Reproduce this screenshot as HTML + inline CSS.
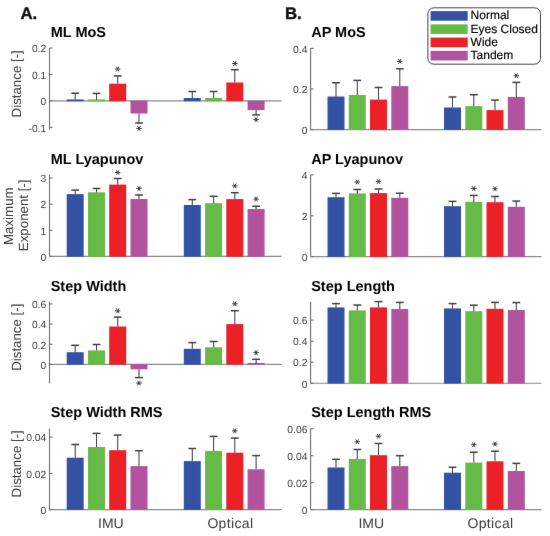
<!DOCTYPE html>
<html><head><meta charset="utf-8"><style>
html,body{margin:0;padding:0;background:#fff;}
body{width:550px;height:536px;overflow:hidden;}
svg{display:block;font-family:"Liberation Sans",sans-serif;text-rendering:geometricPrecision;}
.tk{font-size:10.3px;fill:#3a3a3a;text-anchor:end;}
.ti{font-size:14.5px;font-weight:bold;fill:#000;}
.pl{font-size:16.8px;font-weight:bold;fill:#111;stroke:#111;stroke-width:0.35px;}
.yl{font-size:13.3px;fill:#3a3a3a;text-anchor:middle;}
.xl{font-size:14px;fill:#3a3a3a;text-anchor:middle;}
.lg{font-size:12px;fill:#000;stroke:#000;stroke-width:0.15px;}
</style></head><body>
<svg width="550" height="536" viewBox="0 0 550 536">
<defs><filter id="bl" x="0" y="0" width="1" height="1" color-interpolation-filters="sRGB"><feConvolveMatrix order="3" kernelMatrix="0.00276 0.04704 0.00276 0.04704 0.80077 0.04704 0.00276 0.04704 0.00276" preserveAlpha="true" edgeMode="duplicate"/></filter></defs>
<g filter="url(#bl)">
<rect width="550" height="536" fill="#fff"/>
<path d="M49.5 100.9H281.5" stroke="#8a8a8a" stroke-width="1.1" fill="none"/>
<rect x="66.7" y="99.45" width="17" height="1.85" fill="#3452a3"/>
<path d="M75.2 99.8V93.2" stroke="#404040" stroke-width="1.05" fill="none"/>
<path d="M71.3 93.2H79.1" stroke="#404040" stroke-width="1.5" fill="none"/>
<rect x="88" y="99.45" width="17" height="1.85" fill="#66bb47"/>
<path d="M96.5 99.8V93.4" stroke="#404040" stroke-width="1.05" fill="none"/>
<path d="M92.6 93.4H100.4" stroke="#404040" stroke-width="1.5" fill="none"/>
<rect x="109.2" y="83.7" width="17" height="17.5" fill="#ec2027"/>
<path d="M117.7 83.7V75.9" stroke="#404040" stroke-width="1.05" fill="none"/>
<path d="M113.8 75.9H121.6" stroke="#404040" stroke-width="1.5" fill="none"/>
<path d="M115 69H120.4M116.35 66.66L119.05 71.34M119.05 66.66L116.35 71.34" stroke="#3a3a3a" stroke-width="1.0" fill="none"/>
<rect x="130.5" y="100.6" width="17" height="12.9" fill="#b1539f"/>
<path d="M139 113.5V123" stroke="#404040" stroke-width="1.05" fill="none"/>
<path d="M135.1 123H142.9" stroke="#404040" stroke-width="1.5" fill="none"/>
<path d="M136.3 128.4H141.7M137.65 126.06L140.35 130.74M140.35 126.06L137.65 130.74" stroke="#3a3a3a" stroke-width="1.0" fill="none"/>
<rect x="183.8" y="98" width="17" height="3.2" fill="#3452a3"/>
<path d="M192.3 98V91.5" stroke="#404040" stroke-width="1.05" fill="none"/>
<path d="M188.4 91.5H196.2" stroke="#404040" stroke-width="1.5" fill="none"/>
<rect x="205.1" y="98" width="17" height="3.2" fill="#66bb47"/>
<path d="M213.6 98V91.5" stroke="#404040" stroke-width="1.05" fill="none"/>
<path d="M209.7 91.5H217.5" stroke="#404040" stroke-width="1.5" fill="none"/>
<rect x="226.3" y="82.5" width="17" height="18.7" fill="#ec2027"/>
<path d="M234.8 82.5V69.7" stroke="#404040" stroke-width="1.05" fill="none"/>
<path d="M230.9 69.7H238.7" stroke="#404040" stroke-width="1.5" fill="none"/>
<path d="M232.1 63.5H237.5M233.45 61.16L236.15 65.84M236.15 61.16L233.45 65.84" stroke="#3a3a3a" stroke-width="1.0" fill="none"/>
<rect x="247.6" y="100.6" width="17" height="9.5" fill="#b1539f"/>
<path d="M256.1 110.1V114.9" stroke="#404040" stroke-width="1.05" fill="none"/>
<path d="M252.2 114.9H260" stroke="#404040" stroke-width="1.5" fill="none"/>
<path d="M253.4 119.6H258.8M254.75 117.26L257.45 121.94M257.45 117.26L254.75 121.94" stroke="#3a3a3a" stroke-width="1.0" fill="none"/>
<path d="M49.5 48V129.6" stroke="#6e6e6e" stroke-width="1.1" fill="none"/>
<path d="M49.5 48H52.5" stroke="#6e6e6e" stroke-width="1.1" fill="none"/>
<text x="46.3" y="52.2" class="tk">0.2</text>
<path d="M49.5 74.4H52.5" stroke="#6e6e6e" stroke-width="1.1" fill="none"/>
<text x="46.3" y="78.6" class="tk">0.1</text>
<path d="M49.5 100.8H52.5" stroke="#6e6e6e" stroke-width="1.1" fill="none"/>
<text x="46.3" y="105" class="tk">0</text>
<path d="M49.5 127.3H52.5" stroke="#6e6e6e" stroke-width="1.1" fill="none"/>
<text x="46.3" y="131.5" class="tk">-0.1</text>
<text x="50.7" y="37.2" class="ti">ML MoS</text>
<path d="M49.5 256.4H281.5" stroke="#8a8a8a" stroke-width="1.1" fill="none"/>
<rect x="66.7" y="194.1" width="17" height="62.6" fill="#3452a3"/>
<path d="M75.2 194.1V190.1" stroke="#404040" stroke-width="1.05" fill="none"/>
<path d="M71.3 190.1H79.1" stroke="#404040" stroke-width="1.5" fill="none"/>
<rect x="88" y="192.3" width="17" height="64.4" fill="#66bb47"/>
<path d="M96.5 192.3V188.5" stroke="#404040" stroke-width="1.05" fill="none"/>
<path d="M92.6 188.5H100.4" stroke="#404040" stroke-width="1.5" fill="none"/>
<rect x="109.2" y="184.6" width="17" height="72.1" fill="#ec2027"/>
<path d="M117.7 184.6V178.5" stroke="#404040" stroke-width="1.05" fill="none"/>
<path d="M113.8 178.5H121.6" stroke="#404040" stroke-width="1.5" fill="none"/>
<path d="M115 172.5H120.4M116.35 170.16L119.05 174.84M119.05 170.16L116.35 174.84" stroke="#3a3a3a" stroke-width="1.0" fill="none"/>
<rect x="130.5" y="199" width="17" height="57.7" fill="#b1539f"/>
<path d="M139 199V195" stroke="#404040" stroke-width="1.05" fill="none"/>
<path d="M135.1 195H142.9" stroke="#404040" stroke-width="1.5" fill="none"/>
<path d="M136.3 188.5H141.7M137.65 186.16L140.35 190.84M140.35 186.16L137.65 190.84" stroke="#3a3a3a" stroke-width="1.0" fill="none"/>
<rect x="183.8" y="205" width="17" height="51.7" fill="#3452a3"/>
<path d="M192.3 205V199.6" stroke="#404040" stroke-width="1.05" fill="none"/>
<path d="M188.4 199.6H196.2" stroke="#404040" stroke-width="1.5" fill="none"/>
<rect x="205.1" y="203.2" width="17" height="53.5" fill="#66bb47"/>
<path d="M213.6 203.2V196.3" stroke="#404040" stroke-width="1.05" fill="none"/>
<path d="M209.7 196.3H217.5" stroke="#404040" stroke-width="1.5" fill="none"/>
<rect x="226.3" y="199.1" width="17" height="57.6" fill="#ec2027"/>
<path d="M234.8 199.1V192.7" stroke="#404040" stroke-width="1.05" fill="none"/>
<path d="M230.9 192.7H238.7" stroke="#404040" stroke-width="1.5" fill="none"/>
<path d="M232.1 185.9H237.5M233.45 183.56L236.15 188.24M236.15 183.56L233.45 188.24" stroke="#3a3a3a" stroke-width="1.0" fill="none"/>
<rect x="247.6" y="209" width="17" height="47.7" fill="#b1539f"/>
<path d="M256.1 209V206.2" stroke="#404040" stroke-width="1.05" fill="none"/>
<path d="M252.2 206.2H260" stroke="#404040" stroke-width="1.5" fill="none"/>
<path d="M253.4 199.1H258.8M254.75 196.76L257.45 201.44M257.45 196.76L254.75 201.44" stroke="#3a3a3a" stroke-width="1.0" fill="none"/>
<path d="M49.5 174.7V256.4" stroke="#6e6e6e" stroke-width="1.1" fill="none"/>
<path d="M49.5 178.1H52.5" stroke="#6e6e6e" stroke-width="1.1" fill="none"/>
<text x="46.3" y="182.3" class="tk">3</text>
<path d="M49.5 204.2H52.5" stroke="#6e6e6e" stroke-width="1.1" fill="none"/>
<text x="46.3" y="208.4" class="tk">2</text>
<path d="M49.5 230.3H52.5" stroke="#6e6e6e" stroke-width="1.1" fill="none"/>
<text x="46.3" y="234.5" class="tk">1</text>
<path d="M49.5 256.4H52.5" stroke="#6e6e6e" stroke-width="1.1" fill="none"/>
<text x="46.3" y="260.6" class="tk">0</text>
<text x="50.7" y="163.9" class="ti">ML Lyapunov</text>
<path d="M49.5 364.4H281.5" stroke="#8a8a8a" stroke-width="1.1" fill="none"/>
<rect x="66.7" y="352.2" width="17" height="12.5" fill="#3452a3"/>
<path d="M75.2 352.2V345.3" stroke="#404040" stroke-width="1.05" fill="none"/>
<path d="M71.3 345.3H79.1" stroke="#404040" stroke-width="1.5" fill="none"/>
<rect x="88" y="350.4" width="17" height="14.3" fill="#66bb47"/>
<path d="M96.5 350.4V344.5" stroke="#404040" stroke-width="1.05" fill="none"/>
<path d="M92.6 344.5H100.4" stroke="#404040" stroke-width="1.5" fill="none"/>
<rect x="109.2" y="326.5" width="17" height="38.2" fill="#ec2027"/>
<path d="M117.7 326.5V317.1" stroke="#404040" stroke-width="1.05" fill="none"/>
<path d="M113.8 317.1H121.6" stroke="#404040" stroke-width="1.5" fill="none"/>
<path d="M115 310.9H120.4M116.35 308.56L119.05 313.24M119.05 308.56L116.35 313.24" stroke="#3a3a3a" stroke-width="1.0" fill="none"/>
<rect x="130.5" y="364.1" width="17" height="5.2" fill="#b1539f"/>
<path d="M139 369.3V377.6" stroke="#404040" stroke-width="1.05" fill="none"/>
<path d="M135.1 377.6H142.9" stroke="#404040" stroke-width="1.5" fill="none"/>
<path d="M136.3 383.1H141.7M137.65 380.76L140.35 385.44M140.35 380.76L137.65 385.44" stroke="#3a3a3a" stroke-width="1.0" fill="none"/>
<rect x="183.8" y="348.8" width="17" height="15.9" fill="#3452a3"/>
<path d="M192.3 348.8V342.6" stroke="#404040" stroke-width="1.05" fill="none"/>
<path d="M188.4 342.6H196.2" stroke="#404040" stroke-width="1.5" fill="none"/>
<rect x="205.1" y="347.3" width="17" height="17.4" fill="#66bb47"/>
<path d="M213.6 347.3V341.5" stroke="#404040" stroke-width="1.05" fill="none"/>
<path d="M209.7 341.5H217.5" stroke="#404040" stroke-width="1.5" fill="none"/>
<rect x="226.3" y="324.1" width="17" height="40.6" fill="#ec2027"/>
<path d="M234.8 324.1V310.7" stroke="#404040" stroke-width="1.05" fill="none"/>
<path d="M230.9 310.7H238.7" stroke="#404040" stroke-width="1.5" fill="none"/>
<path d="M232.1 303.8H237.5M233.45 301.46L236.15 306.14M236.15 301.46L233.45 306.14" stroke="#3a3a3a" stroke-width="1.0" fill="none"/>
<rect x="247.6" y="362.95" width="17" height="1.85" fill="#b1539f"/>
<path d="M256.1 364V359.3" stroke="#404040" stroke-width="1.05" fill="none"/>
<path d="M252.2 359.3H260" stroke="#404040" stroke-width="1.5" fill="none"/>
<path d="M253.4 352.6H258.8M254.75 350.26L257.45 354.94M257.45 350.26L254.75 354.94" stroke="#3a3a3a" stroke-width="1.0" fill="none"/>
<path d="M49.5 301.7V383.3" stroke="#6e6e6e" stroke-width="1.1" fill="none"/>
<path d="M49.5 303.9H52.5" stroke="#6e6e6e" stroke-width="1.1" fill="none"/>
<text x="46.3" y="308.1" class="tk">0.6</text>
<path d="M49.5 324.1H52.5" stroke="#6e6e6e" stroke-width="1.1" fill="none"/>
<text x="46.3" y="328.3" class="tk">0.4</text>
<path d="M49.5 344.3H52.5" stroke="#6e6e6e" stroke-width="1.1" fill="none"/>
<text x="46.3" y="348.5" class="tk">0.2</text>
<path d="M49.5 364.4H52.5" stroke="#6e6e6e" stroke-width="1.1" fill="none"/>
<text x="46.3" y="368.6" class="tk">0</text>
<text x="50.7" y="290.6" class="ti">Step Width</text>
<path d="M49.5 509.6H281.5" stroke="#8a8a8a" stroke-width="1.1" fill="none"/>
<rect x="66.7" y="457.7" width="17" height="52.2" fill="#3452a3"/>
<path d="M75.2 457.7V444.5" stroke="#404040" stroke-width="1.05" fill="none"/>
<path d="M71.3 444.5H79.1" stroke="#404040" stroke-width="1.5" fill="none"/>
<rect x="88" y="447" width="17" height="62.9" fill="#66bb47"/>
<path d="M96.5 447V433.4" stroke="#404040" stroke-width="1.05" fill="none"/>
<path d="M92.6 433.4H100.4" stroke="#404040" stroke-width="1.5" fill="none"/>
<rect x="109.2" y="450.2" width="17" height="59.7" fill="#ec2027"/>
<path d="M117.7 450.2V435.1" stroke="#404040" stroke-width="1.05" fill="none"/>
<path d="M113.8 435.1H121.6" stroke="#404040" stroke-width="1.5" fill="none"/>
<rect x="130.5" y="466.1" width="17" height="43.8" fill="#b1539f"/>
<path d="M139 466.1V450.7" stroke="#404040" stroke-width="1.05" fill="none"/>
<path d="M135.1 450.7H142.9" stroke="#404040" stroke-width="1.5" fill="none"/>
<rect x="183.8" y="461.1" width="17" height="48.8" fill="#3452a3"/>
<path d="M192.3 461.1V448.5" stroke="#404040" stroke-width="1.05" fill="none"/>
<path d="M188.4 448.5H196.2" stroke="#404040" stroke-width="1.5" fill="none"/>
<rect x="205.1" y="450.9" width="17" height="59" fill="#66bb47"/>
<path d="M213.6 450.9V436.4" stroke="#404040" stroke-width="1.05" fill="none"/>
<path d="M209.7 436.4H217.5" stroke="#404040" stroke-width="1.5" fill="none"/>
<rect x="226.3" y="452.7" width="17" height="57.2" fill="#ec2027"/>
<path d="M234.8 452.7V438.1" stroke="#404040" stroke-width="1.05" fill="none"/>
<path d="M230.9 438.1H238.7" stroke="#404040" stroke-width="1.5" fill="none"/>
<path d="M232.1 430.9H237.5M233.45 428.56L236.15 433.24M236.15 428.56L233.45 433.24" stroke="#3a3a3a" stroke-width="1.0" fill="none"/>
<rect x="247.6" y="469.3" width="17" height="40.6" fill="#b1539f"/>
<path d="M256.1 469.3V455.6" stroke="#404040" stroke-width="1.05" fill="none"/>
<path d="M252.2 455.6H260" stroke="#404040" stroke-width="1.5" fill="none"/>
<path d="M49.5 428.5V509.6" stroke="#6e6e6e" stroke-width="1.1" fill="none"/>
<path d="M49.5 437.1H52.5" stroke="#6e6e6e" stroke-width="1.1" fill="none"/>
<text x="46.3" y="441.3" class="tk">0.04</text>
<path d="M49.5 473.4H52.5" stroke="#6e6e6e" stroke-width="1.1" fill="none"/>
<text x="46.3" y="477.6" class="tk">0.02</text>
<path d="M49.5 509.6H52.5" stroke="#6e6e6e" stroke-width="1.1" fill="none"/>
<text x="46.3" y="513.8" class="tk">0</text>
<text x="50.7" y="417.3" class="ti">Step Width RMS</text>
<path d="M310.6 129.6H541.5" stroke="#8a8a8a" stroke-width="1.1" fill="none"/>
<rect x="327.5" y="96.5" width="17" height="33.4" fill="#3452a3"/>
<path d="M336 96.5V82.8" stroke="#404040" stroke-width="1.05" fill="none"/>
<path d="M332.1 82.8H339.9" stroke="#404040" stroke-width="1.5" fill="none"/>
<rect x="348.8" y="95" width="17" height="34.9" fill="#66bb47"/>
<path d="M357.3 95V80.4" stroke="#404040" stroke-width="1.05" fill="none"/>
<path d="M353.4 80.4H361.2" stroke="#404040" stroke-width="1.5" fill="none"/>
<rect x="370" y="99.6" width="17" height="30.3" fill="#ec2027"/>
<path d="M378.5 99.6V87.5" stroke="#404040" stroke-width="1.05" fill="none"/>
<path d="M374.6 87.5H382.4" stroke="#404040" stroke-width="1.5" fill="none"/>
<rect x="391.3" y="86.1" width="17" height="43.8" fill="#b1539f"/>
<path d="M399.8 86.1V68.8" stroke="#404040" stroke-width="1.05" fill="none"/>
<path d="M395.9 68.8H403.7" stroke="#404040" stroke-width="1.5" fill="none"/>
<path d="M397.1 61.3H402.5M398.45 58.96L401.15 63.64M401.15 58.96L398.45 63.64" stroke="#3a3a3a" stroke-width="1.0" fill="none"/>
<rect x="444" y="107.5" width="17" height="22.4" fill="#3452a3"/>
<path d="M452.5 107.5V97" stroke="#404040" stroke-width="1.05" fill="none"/>
<path d="M448.6 97H456.4" stroke="#404040" stroke-width="1.5" fill="none"/>
<rect x="465.3" y="106.1" width="17" height="23.8" fill="#66bb47"/>
<path d="M473.8 106.1V94.7" stroke="#404040" stroke-width="1.05" fill="none"/>
<path d="M469.9 94.7H477.7" stroke="#404040" stroke-width="1.5" fill="none"/>
<rect x="486.5" y="110.1" width="17" height="19.8" fill="#ec2027"/>
<path d="M495 110.1V100.1" stroke="#404040" stroke-width="1.05" fill="none"/>
<path d="M491.1 100.1H498.9" stroke="#404040" stroke-width="1.5" fill="none"/>
<rect x="507.8" y="96.9" width="17" height="33" fill="#b1539f"/>
<path d="M516.3 96.9V82.4" stroke="#404040" stroke-width="1.05" fill="none"/>
<path d="M512.4 82.4H520.2" stroke="#404040" stroke-width="1.5" fill="none"/>
<path d="M513.6 75.7H519M514.95 73.36L517.65 78.04M517.65 73.36L514.95 78.04" stroke="#3a3a3a" stroke-width="1.0" fill="none"/>
<path d="M310.6 48V129.6" stroke="#6e6e6e" stroke-width="1.1" fill="none"/>
<path d="M310.6 48.4H313.6" stroke="#6e6e6e" stroke-width="1.1" fill="none"/>
<text x="307.4" y="52.6" class="tk">0.4</text>
<path d="M310.6 89H313.6" stroke="#6e6e6e" stroke-width="1.1" fill="none"/>
<text x="307.4" y="93.2" class="tk">0.2</text>
<path d="M310.6 129.6H313.6" stroke="#6e6e6e" stroke-width="1.1" fill="none"/>
<text x="307.4" y="133.8" class="tk">0</text>
<text x="311.2" y="37.2" class="ti">AP MoS</text>
<path d="M310.6 256.6H541.5" stroke="#8a8a8a" stroke-width="1.1" fill="none"/>
<rect x="327.5" y="197.2" width="17" height="59.7" fill="#3452a3"/>
<path d="M336 197.2V193.4" stroke="#404040" stroke-width="1.05" fill="none"/>
<path d="M332.1 193.4H339.9" stroke="#404040" stroke-width="1.5" fill="none"/>
<rect x="348.8" y="193.4" width="17" height="63.5" fill="#66bb47"/>
<path d="M357.3 193.4V189.5" stroke="#404040" stroke-width="1.05" fill="none"/>
<path d="M353.4 189.5H361.2" stroke="#404040" stroke-width="1.5" fill="none"/>
<path d="M354.6 182H360M355.95 179.66L358.65 184.34M358.65 179.66L355.95 184.34" stroke="#3a3a3a" stroke-width="1.0" fill="none"/>
<rect x="370" y="193.1" width="17" height="63.8" fill="#ec2027"/>
<path d="M378.5 193.1V189" stroke="#404040" stroke-width="1.05" fill="none"/>
<path d="M374.6 189H382.4" stroke="#404040" stroke-width="1.5" fill="none"/>
<path d="M375.8 181.5H381.2M377.15 179.16L379.85 183.84M379.85 179.16L377.15 183.84" stroke="#3a3a3a" stroke-width="1.0" fill="none"/>
<rect x="391.3" y="197.8" width="17" height="59.1" fill="#b1539f"/>
<path d="M399.8 197.8V193.2" stroke="#404040" stroke-width="1.05" fill="none"/>
<path d="M395.9 193.2H403.7" stroke="#404040" stroke-width="1.5" fill="none"/>
<rect x="444" y="206.2" width="17" height="50.7" fill="#3452a3"/>
<path d="M452.5 206.2V201.4" stroke="#404040" stroke-width="1.05" fill="none"/>
<path d="M448.6 201.4H456.4" stroke="#404040" stroke-width="1.5" fill="none"/>
<rect x="465.3" y="201.9" width="17" height="55" fill="#66bb47"/>
<path d="M473.8 201.9V195.4" stroke="#404040" stroke-width="1.05" fill="none"/>
<path d="M469.9 195.4H477.7" stroke="#404040" stroke-width="1.5" fill="none"/>
<path d="M471.1 188.5H476.5M472.45 186.16L475.15 190.84M475.15 186.16L472.45 190.84" stroke="#3a3a3a" stroke-width="1.0" fill="none"/>
<rect x="486.5" y="202.2" width="17" height="54.7" fill="#ec2027"/>
<path d="M495 202.2V196.5" stroke="#404040" stroke-width="1.05" fill="none"/>
<path d="M491.1 196.5H498.9" stroke="#404040" stroke-width="1.5" fill="none"/>
<path d="M492.3 188.8H497.7M493.65 186.46L496.35 191.14M496.35 186.46L493.65 191.14" stroke="#3a3a3a" stroke-width="1.0" fill="none"/>
<rect x="507.8" y="206.8" width="17" height="50.1" fill="#b1539f"/>
<path d="M516.3 206.8V201.1" stroke="#404040" stroke-width="1.05" fill="none"/>
<path d="M512.4 201.1H520.2" stroke="#404040" stroke-width="1.5" fill="none"/>
<path d="M310.6 174.7V256.4" stroke="#6e6e6e" stroke-width="1.1" fill="none"/>
<path d="M310.6 174.9H313.6" stroke="#6e6e6e" stroke-width="1.1" fill="none"/>
<text x="307.4" y="179.1" class="tk">4</text>
<path d="M310.6 215.8H313.6" stroke="#6e6e6e" stroke-width="1.1" fill="none"/>
<text x="307.4" y="220" class="tk">2</text>
<path d="M310.6 256.6H313.6" stroke="#6e6e6e" stroke-width="1.1" fill="none"/>
<text x="307.4" y="260.8" class="tk">0</text>
<text x="311.2" y="163.9" class="ti">AP Lyapunov</text>
<path d="M310.6 383.3H541.5" stroke="#8a8a8a" stroke-width="1.1" fill="none"/>
<rect x="327.5" y="307.4" width="17" height="76.2" fill="#3452a3"/>
<path d="M336 307.4V303.6" stroke="#404040" stroke-width="1.05" fill="none"/>
<path d="M332.1 303.6H339.9" stroke="#404040" stroke-width="1.5" fill="none"/>
<rect x="348.8" y="310.4" width="17" height="73.2" fill="#66bb47"/>
<path d="M357.3 310.4V305" stroke="#404040" stroke-width="1.05" fill="none"/>
<path d="M353.4 305H361.2" stroke="#404040" stroke-width="1.5" fill="none"/>
<rect x="370" y="307.4" width="17" height="76.2" fill="#ec2027"/>
<path d="M378.5 307.4V301.6" stroke="#404040" stroke-width="1.05" fill="none"/>
<path d="M374.6 301.6H382.4" stroke="#404040" stroke-width="1.5" fill="none"/>
<rect x="391.3" y="309" width="17" height="74.6" fill="#b1539f"/>
<path d="M399.8 309V302.4" stroke="#404040" stroke-width="1.05" fill="none"/>
<path d="M395.9 302.4H403.7" stroke="#404040" stroke-width="1.5" fill="none"/>
<rect x="444" y="308.4" width="17" height="75.2" fill="#3452a3"/>
<path d="M452.5 308.4V303.6" stroke="#404040" stroke-width="1.05" fill="none"/>
<path d="M448.6 303.6H456.4" stroke="#404040" stroke-width="1.5" fill="none"/>
<rect x="465.3" y="311.2" width="17" height="72.4" fill="#66bb47"/>
<path d="M473.8 311.2V305.2" stroke="#404040" stroke-width="1.05" fill="none"/>
<path d="M469.9 305.2H477.7" stroke="#404040" stroke-width="1.5" fill="none"/>
<rect x="486.5" y="308.8" width="17" height="74.8" fill="#ec2027"/>
<path d="M495 308.8V302.4" stroke="#404040" stroke-width="1.05" fill="none"/>
<path d="M491.1 302.4H498.9" stroke="#404040" stroke-width="1.5" fill="none"/>
<rect x="507.8" y="310" width="17" height="73.6" fill="#b1539f"/>
<path d="M516.3 310V302.6" stroke="#404040" stroke-width="1.05" fill="none"/>
<path d="M512.4 302.6H520.2" stroke="#404040" stroke-width="1.5" fill="none"/>
<path d="M310.6 301.7V383.3" stroke="#6e6e6e" stroke-width="1.1" fill="none"/>
<path d="M310.6 320.1H313.6" stroke="#6e6e6e" stroke-width="1.1" fill="none"/>
<text x="307.4" y="324.3" class="tk">0.6</text>
<path d="M310.6 341.2H313.6" stroke="#6e6e6e" stroke-width="1.1" fill="none"/>
<text x="307.4" y="345.4" class="tk">0.4</text>
<path d="M310.6 362.2H313.6" stroke="#6e6e6e" stroke-width="1.1" fill="none"/>
<text x="307.4" y="366.4" class="tk">0.2</text>
<path d="M310.6 383.3H313.6" stroke="#6e6e6e" stroke-width="1.1" fill="none"/>
<text x="307.4" y="387.5" class="tk">0</text>
<text x="311.2" y="290.6" class="ti">Step Length</text>
<path d="M310.6 509.6H541.5" stroke="#8a8a8a" stroke-width="1.1" fill="none"/>
<rect x="327.5" y="467.5" width="17" height="42.4" fill="#3452a3"/>
<path d="M336 467.5V459.3" stroke="#404040" stroke-width="1.05" fill="none"/>
<path d="M332.1 459.3H339.9" stroke="#404040" stroke-width="1.5" fill="none"/>
<rect x="348.8" y="458.9" width="17" height="51" fill="#66bb47"/>
<path d="M357.3 458.9V449.5" stroke="#404040" stroke-width="1.05" fill="none"/>
<path d="M353.4 449.5H361.2" stroke="#404040" stroke-width="1.5" fill="none"/>
<path d="M354.6 441.8H360M355.95 439.46L358.65 444.14M358.65 439.46L355.95 444.14" stroke="#3a3a3a" stroke-width="1.0" fill="none"/>
<rect x="370" y="455.2" width="17" height="54.7" fill="#ec2027"/>
<path d="M378.5 455.2V443.5" stroke="#404040" stroke-width="1.05" fill="none"/>
<path d="M374.6 443.5H382.4" stroke="#404040" stroke-width="1.5" fill="none"/>
<path d="M375.8 436.2H381.2M377.15 433.86L379.85 438.54M379.85 433.86L377.15 438.54" stroke="#3a3a3a" stroke-width="1.0" fill="none"/>
<rect x="391.3" y="466.1" width="17" height="43.8" fill="#b1539f"/>
<path d="M399.8 466.1V455.7" stroke="#404040" stroke-width="1.05" fill="none"/>
<path d="M395.9 455.7H403.7" stroke="#404040" stroke-width="1.5" fill="none"/>
<rect x="444" y="472.7" width="17" height="37.2" fill="#3452a3"/>
<path d="M452.5 472.7V467.3" stroke="#404040" stroke-width="1.05" fill="none"/>
<path d="M448.6 467.3H456.4" stroke="#404040" stroke-width="1.5" fill="none"/>
<rect x="465.3" y="462.6" width="17" height="47.3" fill="#66bb47"/>
<path d="M473.8 462.6V452.2" stroke="#404040" stroke-width="1.05" fill="none"/>
<path d="M469.9 452.2H477.7" stroke="#404040" stroke-width="1.5" fill="none"/>
<path d="M471.1 444.8H476.5M472.45 442.46L475.15 447.14M475.15 442.46L472.45 447.14" stroke="#3a3a3a" stroke-width="1.0" fill="none"/>
<rect x="486.5" y="461.3" width="17" height="48.6" fill="#ec2027"/>
<path d="M495 461.3V451.2" stroke="#404040" stroke-width="1.05" fill="none"/>
<path d="M491.1 451.2H498.9" stroke="#404040" stroke-width="1.5" fill="none"/>
<path d="M492.3 444H497.7M493.65 441.66L496.35 446.34M496.35 441.66L493.65 446.34" stroke="#3a3a3a" stroke-width="1.0" fill="none"/>
<rect x="507.8" y="471" width="17" height="38.9" fill="#b1539f"/>
<path d="M516.3 471V463.4" stroke="#404040" stroke-width="1.05" fill="none"/>
<path d="M512.4 463.4H520.2" stroke="#404040" stroke-width="1.5" fill="none"/>
<path d="M310.6 428.5V509.6" stroke="#6e6e6e" stroke-width="1.1" fill="none"/>
<path d="M310.6 428.7H313.6" stroke="#6e6e6e" stroke-width="1.1" fill="none"/>
<text x="307.4" y="432.9" class="tk">0.06</text>
<path d="M310.6 455.7H313.6" stroke="#6e6e6e" stroke-width="1.1" fill="none"/>
<text x="307.4" y="459.9" class="tk">0.04</text>
<path d="M310.6 482.6H313.6" stroke="#6e6e6e" stroke-width="1.1" fill="none"/>
<text x="307.4" y="486.8" class="tk">0.02</text>
<path d="M310.6 509.6H313.6" stroke="#6e6e6e" stroke-width="1.1" fill="none"/>
<text x="307.4" y="513.8" class="tk">0</text>
<text x="311.2" y="417.3" class="ti">Step Length RMS</text>
<text x="20.5" y="19" class="pl">A.</text>
<text x="285" y="19" class="pl">B.</text>
<text transform="translate(21.3 83.8) rotate(-90)" class="yl">Distance [-]</text>
<text transform="translate(12.6 216.2) rotate(-90)" class="yl">Maximum</text>
<text transform="translate(28.1 215.3) rotate(-90)" class="yl">Exponent [-]</text>
<text transform="translate(21.3 337.2) rotate(-90)" class="yl">Distance [-]</text>
<text transform="translate(21.3 463.8) rotate(-90)" class="yl">Distance [-]</text>
<text x="110.9" y="528.4" class="xl">IMU</text>
<text x="230.4" y="528.4" class="xl" style="letter-spacing:0.35px">Optical</text>
<text x="371.3" y="528.4" class="xl">IMU</text>
<text x="490.5" y="528.4" class="xl" style="letter-spacing:0.35px">Optical</text>
<rect x="427.9" y="7.8" width="112.6" height="56.4" rx="6" ry="6" fill="#fff" stroke="#444" stroke-width="1"/>
<rect x="430.6" y="11.1" width="37.1" height="9.6" fill="#3452a3"/>
<text x="470.6" y="19.4" class="lg">Normal</text>
<rect x="430.6" y="24.35" width="37.1" height="9.6" fill="#66bb47"/>
<text x="470.6" y="32.65" class="lg">Eyes Closed</text>
<rect x="430.6" y="37.6" width="37.1" height="9.6" fill="#ec2027"/>
<text x="470.6" y="45.9" class="lg">Wide</text>
<rect x="430.6" y="50.85" width="37.1" height="9.6" fill="#b1539f"/>
<text x="470.6" y="59.15" class="lg">Tandem</text>
</g>
</svg>
</body></html>
